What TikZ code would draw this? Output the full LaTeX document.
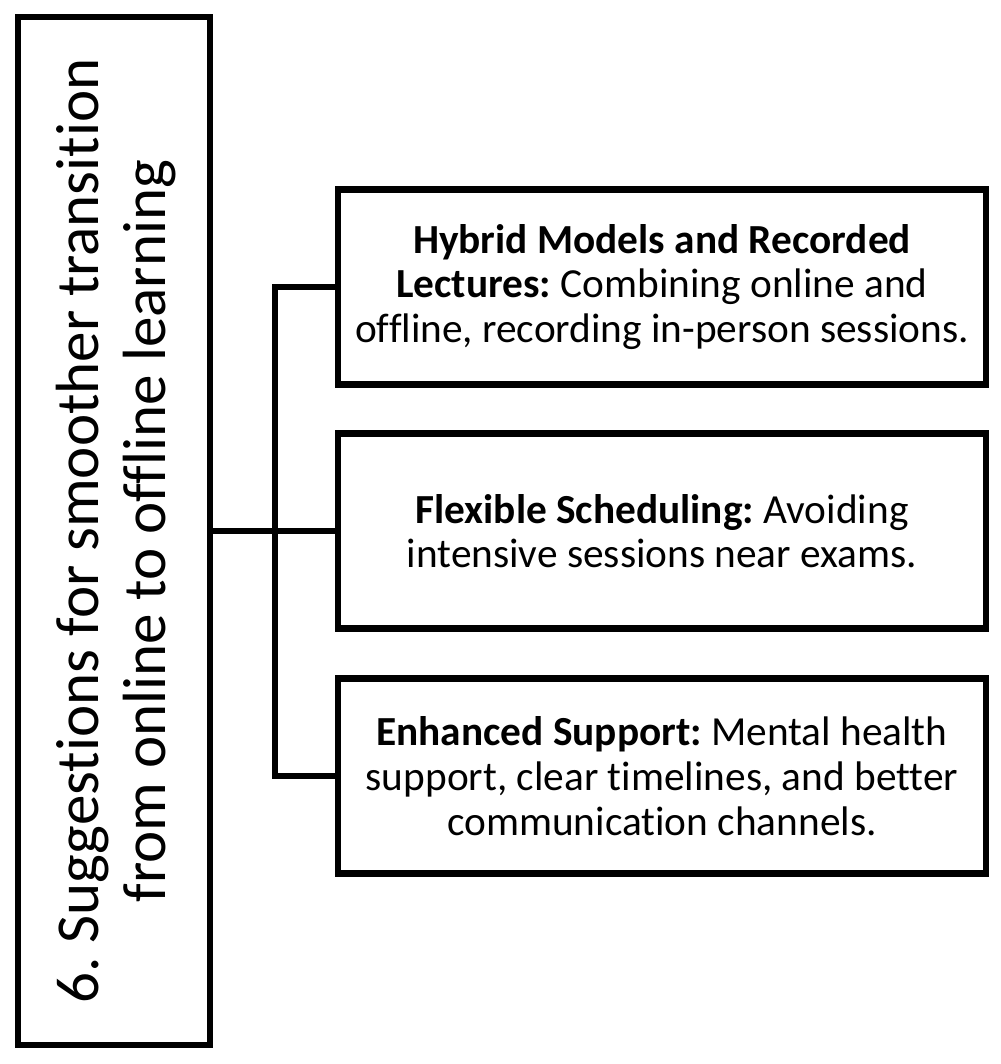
\documentclass[tikz,border=0pt]{standalone}
\usepackage{fontspec}
\setmainfont[Ligatures=CommonOff]{Carlito}
\frenchspacing
\begin{document}
\begin{tikzpicture}[x=0.75pt,y=-0.75pt,
  box/.style={draw=black,line width=4.9pt,inner sep=0pt,minimum width=486pt,minimum height=146.25pt},
  boxtext/.style={align=center,font=\fontsize{31}{33.5}\selectfont},
  conn/.style={draw=black,line width=4.5pt}]
\useasboundingbox (0,0) rectangle (1000,1064);
\node[draw=black,line width=4.9pt,inner sep=0pt,minimum width=144pt,minimum height=771pt] (main) at (114,531) {};
\node[rotate=90,align=center,font=\fontsize{45.75}{50}\selectfont] (maintext) at (116,531) {6. Suggestions for smoother transition\\from online to offline learning};
\node[box] (b1) at (662,287) {};
\node[box] (b2) at (662,531) {};
\node[box] (b3) at (662,776) {};
\node[boxtext] (t1) at (b1) {\textbf{Hybrid Models and Recorded}\\\textbf{Lectures:} Combining online and\\offline, recording in-person sessions.};
\node[boxtext] (t2) at (b2) {\textbf{Flexible Scheduling:} Avoiding\\intensive sessions near exams.};
\node[boxtext] (t3) at (b3) {\textbf{Enhanced Support:} Mental health\\support, clear timelines, and better\\communication channels.};
\coordinate (bus) at (275,531);
\draw[conn] (main.east) -- (b2.west);
\draw[conn] (b1.west) -| (bus) |- (b3.west);
\end{tikzpicture}
\end{document}
